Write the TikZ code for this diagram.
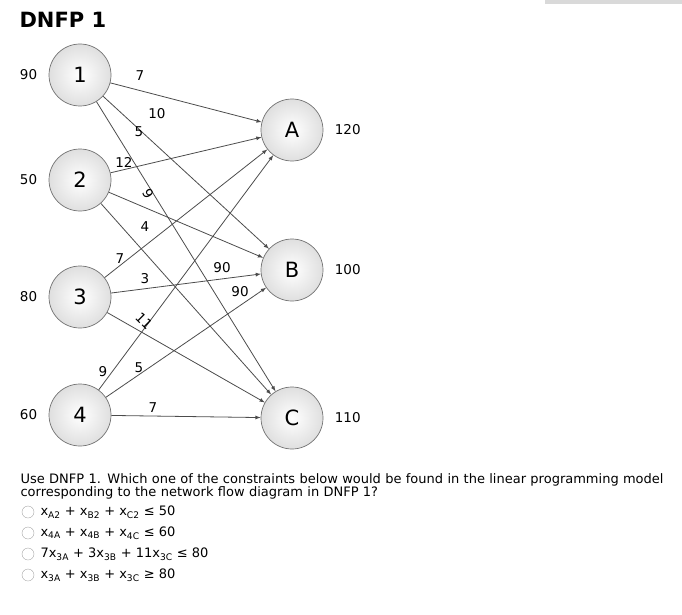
\documentclass[tikz,border=0pt]{standalone}
\usepackage{fontspec}
\setmainfont{DejaVu Sans}
\begin{document}
\begin{tikzpicture}[x=1pt,y=-1pt,
  nd/.style={circle,draw=gray!90!black,line width=0.7pt,inner color=white,outer color=gray!25,minimum size=62pt,font=\fontsize{21}{24}\selectfont},
  ed/.style={draw=gray!60!black,line width=0.8pt,-latex},
  lb/.style={font=\fontsize{13.5}{15}\selectfont},
  qt/.style={font=\fontsize{13}{15}\selectfont,anchor=west},
  rb/.style={circle,draw=gray!70,minimum size=12pt,inner sep=0pt}]
\useasboundingbox (0,0) rectangle (682,615);
\fill[gray!30] (545,0) rectangle (682,4);
\node[anchor=west,font=\bfseries\fontsize{21}{24}\selectfont] (t) at (16,20) {DNFP 1};
\node[nd] (n1) at (80,75) {1};
\node[nd] (n2) at (80,180) {2};
\node[nd] (n3) at (80,297) {3};
\node[nd] (n4) at (80,415) {4};
\node[nd] (A) at (292,130) {A};
\node[nd] (B) at (292,270) {B};
\node[nd] (C) at (292,418) {C};
\foreach \n/\v in {n1/90,n2/50,n3/80,n4/60}{\node[lb,anchor=east] at ([xshift=-8pt]\n.west) {\v};}
\foreach \n/\v in {A/120,B/100,C/110}{\node[lb,anchor=west] at ([xshift=8pt]\n.east) {\v};}
\foreach \s in {n1,n2,n3,n4}{\foreach \d in {A,B,C}{\draw[ed] (\s) -- (\d);}}
\node[lb] at (140,76) {7};
\node[lb] at (157,114) {10};
\node[lb] at (139,132) {5};
\node[lb] at (124,162) {12};
\node[lb,rotate=-60] at (148,194) {9};
\node[lb] at (145,227) {4};
\node[lb] at (120,259) {7};
\node[lb] at (145,279) {3};
\node[lb,rotate=-45] at (144,321) {11};
\node[lb] at (222,268) {90};
\node[lb] at (240,292) {90};
\node[lb] at (103,372) {9};
\node[lb] at (139,368) {5};
\node[lb] at (153,408) {7};
\node[qt,align=left,text width=660pt] (q) at (17,486) {Use DNFP 1. Which one of the constraints below would be found in the linear programming model\\[-2pt] corresponding to the network flow diagram in DNFP 1?};
\foreach \y/\t in {512/{x\textsubscript{A2} + x\textsubscript{B2} + x\textsubscript{C2} ≤ 50},
                   533/{x\textsubscript{4A} + x\textsubscript{4B} + x\textsubscript{4C} ≤ 60},
                   554/{7x\textsubscript{3A} + 3x\textsubscript{3B} + 11x\textsubscript{3C} ≤ 80},
                   575/{x\textsubscript{3A} + x\textsubscript{3B} + x\textsubscript{3C} ≥ 80}}{
  \node[rb] at (28,\y) {};
  \node[qt] at (37,\y) {\t};}
\end{tikzpicture}
\end{document}
